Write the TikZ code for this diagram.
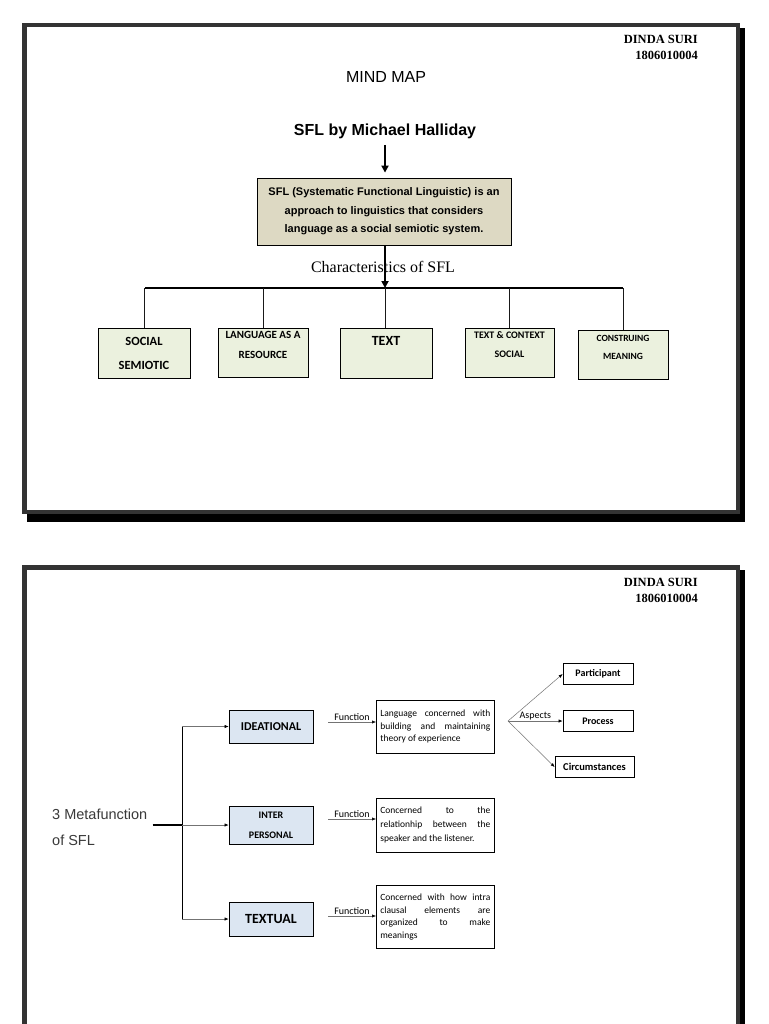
\documentclass[tikz,border=0pt]{standalone}
\usepackage{fontspec}
\setmainfont{Liberation Serif}
\newfontfamily\arial{Liberation Sans}
\newfontfamily\calib{Carlito}
\usetikzlibrary{arrows.meta}
\definecolor{tanfill}{HTML}{DDD9C3}
\definecolor{lgreen}{HTML}{EBF1DE}
\definecolor{lblue}{HTML}{DCE6F2}
\definecolor{framegray}{HTML}{333333}
\definecolor{metagray}{HTML}{3A3A3A}
\begin{document}
\begin{tikzpicture}[x=1pt,y=-1pt,
  gbox/.style={draw=black, line width=0.7pt, fill=lgreen, align=center, inner sep=1pt},
  bbox/.style={draw=black, line width=0.7pt, fill=lblue, align=center, inner sep=1pt, minimum width=84pt},
  wbox/.style={draw=black, line width=0.7pt, fill=white, inner xsep=4pt, inner ysep=3pt, text width=110pt, align=justify, font=\calib\fontsize{9.5}{12.5}\selectfont},
  abox/.style={draw=black, line width=0.7pt, fill=white, minimum height=21pt, font=\calib\bfseries\fontsize{10}{12}\selectfont},
  conn/.style={line width=1pt, draw=black!90},
  thinarr/.style={draw=black!55, line width=0.5pt, -{Latex[length=4pt,width=3.2pt,color=black]}},
  bigarr/.style={line width=2pt, -{Triangle[length=7pt,width=7pt]}},
  lbl/.style={font=\calib\fontsize{10}{12}\selectfont, inner sep=1pt},
  idtext/.style={font=\bfseries\fontsize{12.5}{16}\selectfont, align=right, anchor=east, inner sep=0pt}
]
\useasboundingbox (0,0) rectangle (768,1024);
\clip (0,0) rectangle (768,1024);
\fill[white] (0,0) rectangle (768,1024);

% ---------- page 1 frame ----------
\fill[black] (27,28) rectangle (745,521.5);
\draw[framegray, line width=4.5pt, fill=white] (24.25,25.25) rectangle (737.75,511.75);
% ---------- page 2 frame ----------
\fill[black] (27,570) rectangle (745,1040);
\draw[framegray, line width=4.5pt, fill=white] (24.25,567.25) rectangle (737.75,1045);

% ---------- page 1 ----------
\node[idtext] (id1) at (698,47) {DINDA SURI\\1806010004};
\node[font=\arial\fontsize{16}{18}\selectfont] (mm) at (386,77) {MIND MAP};
\node[font=\arial\bfseries\fontsize{16}{18}\selectfont] (title) at (385,131) {SFL by Michael Halliday};
\node[draw=black, line width=0.8pt, fill=tanfill, minimum width=254pt, minimum height=67pt, align=center,
      font=\arial\bfseries\fontsize{11}{18.5}\selectfont] (def) at (384,211.5)
  {SFL (Systematic Functional Linguistic) is an\\approach to linguistics that considers\\language as a social semiotic system.};
\coordinate (bus) at (385,288);
\coordinate (busL) at (145,288);
\coordinate (busR) at (623,288);
\draw[bigarr, shorten <=3pt, shorten >=5pt] (title.south -| bus) -- (def.north -| bus);
\node[font=\fontsize{16}{18}\selectfont] (chars) at (383,267) {Characteristics of SFL};
\draw[bigarr, shorten <=1pt] (def.south -| bus) -- (bus);
\draw[line width=1.6pt] (busL) -- (busR);

\node[gbox, minimum width=92pt, minimum height=50pt, font=\calib\bfseries\fontsize{12.5}{24}\selectfont] (soc) at (144,353) {SOCIAL\\SEMIOTIC};
\node[gbox, minimum width=90pt, minimum height=49pt, font=\calib\bfseries\fontsize{11}{20}\selectfont] (lang) at (263,352.5) {LANGUAGE AS A\\RESOURCE\\[-4pt]};
\node[gbox, minimum width=92pt, minimum height=50pt] (txt) at (386,353) {};
\node[font=\calib\bfseries\fontsize{14}{16}\selectfont, inner sep=0pt] (txtl) at (386,341) {TEXT};
\node[gbox, minimum width=89pt, minimum height=49pt, font=\calib\bfseries\fontsize{10}{19}\selectfont] (tc) at (509.5,352.5) {TEXT \& CONTEXT\\SOCIAL\\[-4pt]};
\node[gbox, minimum width=90pt, minimum height=49pt, font=\calib\bfseries\fontsize{9.5}{18}\selectfont] (cm) at (623,354.5) {CONSTRUING\\MEANING\\[-4pt]};

\draw[conn] (soc.north |- bus) -- (soc.north);
\draw[conn] (lang.north |- bus) -- (lang.north);
\draw[conn] (bus) -- (txt.north -| bus);
\draw[conn] (tc.north |- bus) -- (tc.north);
\draw[conn] (cm.north |- bus) -- (cm.north);

% ---------- page 2 ----------
\node[idtext] (id2) at (698,590) {DINDA SURI\\1806010004};
\node[anchor=west, align=left, font=\arial\fontsize{14.5}{26}\selectfont, text=metagray, inner sep=0pt] (meta) at (52,827) {3 Metafunction\\of SFL};

\node[bbox, minimum height=33pt, font=\calib\bfseries\fontsize{12}{14}\selectfont] (ide) at (271,726.5) {IDEATIONAL};
\node[bbox, minimum height=38pt, font=\calib\bfseries\fontsize{10}{20}\selectfont] (inter) at (271,825) {INTER\\PERSONAL};
\node[bbox, minimum height=34pt, font=\calib\bfseries\fontsize{14}{16}\selectfont] (textual) at (271,919) {TEXTUAL};

\coordinate (trunk) at (182,825);
\draw[line width=2pt, shorten <=5pt] (meta.east |- trunk) -- (trunk);
\draw[line width=0.9pt] (ide.west -| trunk) -- (textual.west -| trunk);
\draw[thinarr] (ide.west -| trunk) -- (ide.west);
\draw[thinarr] (inter.west -| trunk) -- (inter.west);
\draw[thinarr] (textual.west -| trunk) -- (textual.west);

\node[wbox, anchor=north west, minimum height=53pt] (d1) at (376,700)
  {Language concerned with\linebreak building and maintaining\linebreak theory of experience\par\vspace*{6pt}};
\node[wbox, anchor=north west, minimum height=54pt] (d2) at (376,798)
  {\fontsize{9.5}{14}\selectfont Concerned to the\linebreak relationhip between the\linebreak speaker and the listener.\par\vspace*{4pt}};
\node[wbox, anchor=north west, minimum height=63pt] (d3) at (376,885)
  {Concerned with how intra\linebreak clausal elements are\linebreak organized to make\linebreak meanings\par\vspace*{9pt}};

\coordinate (f1) at (328,722);
\coordinate (f2) at (328,819);
\coordinate (f3) at (328,916);
\draw[thinarr] (f1) -- (f1 -| d1.west) node[midway, above, lbl] (fl1) {Function};
\draw[thinarr] (f2) -- (f2 -| d2.west) node[midway, above, lbl] (fl2) {Function};
\draw[thinarr] (f3) -- (f3 -| d3.west) node[midway, above, lbl] (fl3) {Function};

\node[abox, minimum width=70pt] (part) at (598,674) {Participant};
\node[abox, minimum width=70pt] (proc) at (598,721) {Process};
\node[abox, minimum width=79pt, font=\calib\bfseries\fontsize{10.5}{12}\selectfont] (circ) at (594.5,767) {Circumstances};
\coordinate (asp) at (508,721);
\draw[thinarr] (asp) -- (part.west);
\draw[thinarr] (asp) -- (proc.west) node[midway, above, lbl] (al) {Aspects};
\draw[thinarr] (asp) -- (circ.west);
\end{tikzpicture}
\end{document}
